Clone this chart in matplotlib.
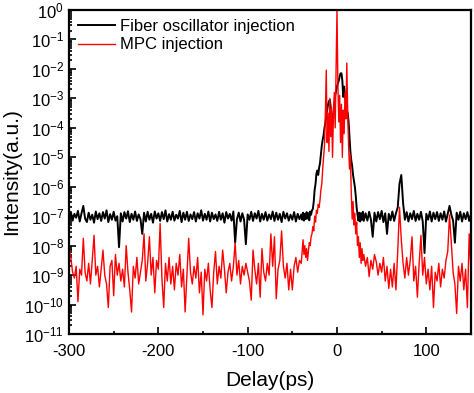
import numpy as np
import matplotlib
matplotlib.use("Agg")
import matplotlib.pyplot as plt
from matplotlib.ticker import LogLocator, MultipleLocator, NullFormatter

plt.rcParams["font.family"] = ["Liberation Sans", "DejaVu Sans"]
plt.rcParams["mathtext.fontset"] = "custom"
plt.rcParams["mathtext.rm"] = "Liberation Sans"
plt.rcParams["mathtext.it"] = "Liberation Sans:italic"
plt.rcParams["axes.unicode_minus"] = False

# Delay grid: coarse on the floor, 1 ps around the pulse
delay_left = np.arange(-300, -39, 2)
delay_center = np.arange(-39, 31, 1)
delay_right = np.arange(32, 151, 2)

# log10(intensity)
fiber_left = [
    -7.10, -6.85, -7.15, -6.92, -7.05, -6.82, -7.18, -6.90, -6.65, -7.08,
    -7.20, -6.88, -7.12, -6.95, -7.22, -6.84, -7.10, -6.90, -7.16, -6.86,
    -7.08, -6.80, -7.20, -6.93, -7.12, -6.85, -7.15, -7.00, -8.05, -6.90,
    -7.18, -6.86, -7.08, -6.83, -7.20, -6.92, -7.12, -6.84, -7.16, -6.94,
    -7.10, -7.60, -6.88, -7.18, -6.85, -7.12, -6.92, -7.22, -6.84, -7.08,
    -6.90, -7.16, -6.86, -7.10, -6.80, -7.18, -6.93, -7.12, -6.85, -7.15,
    -6.95, -7.08, -6.82, -7.20, -6.88, -7.12, -6.85, -7.16, -6.94, -7.10,
    -6.86, -7.18, -6.90, -7.08, -6.80, -7.15, -6.92, -7.12, -6.84, -7.18,
    -6.88, -7.10, -6.94, -7.16, -6.85, -7.12, -6.90, -7.22, -6.86, -7.08,
    -6.92, -7.15, -6.84, -7.90, -7.10, -6.88, -7.18, -6.90, -7.12, -7.95,
    -6.94, -7.12, -6.85, -7.16, -6.90, -7.08, -6.82, -7.18, -6.92, -7.12,
    -6.86, -7.15, -6.94, -7.10, -6.84, -7.16, -6.88, -7.12, -6.92, -7.20,
    -6.85, -7.08, -6.90, -7.15, -6.95, -7.12, -6.86, -7.18, -6.92, -7.10, -6.94,
]
fiber_center = [
    -7.12, -6.88, -7.15, -6.92, -7.10, -6.86, -7.08, -6.90, -7.14, -6.84,
    -6.95, -6.80, -6.75, -6.50, -6.10, -5.90, -5.55, -5.45, -5.60, -5.35,
    -5.20, -4.90, -4.60, -4.40, -4.25, -4.00, -3.85, -3.60, -3.40, -3.20,
    -3.10, -3.05, -3.30, -3.60, -3.85, -3.60, -3.20, -2.90, -2.75, -2.60,
    -2.50, -2.40, -2.25, -2.15, -2.15, -2.40, -2.95, -2.60, -2.90, -3.20,
    -3.40, -3.50, -3.80, -4.30, -4.80, -5.10, -5.30, -5.60, -5.80, -6.00,
    -6.30, -6.70, -6.95, -7.15, -6.88, -7.18, -6.90, -7.12, -6.85, -7.16,
]
fiber_right = [
    -6.90, -7.15, -6.85, -7.12, -7.70, -6.88, -7.18, -6.86, -7.10, -6.82,
    -7.20, -6.90, -7.60, -6.92, -7.14, -6.84, -7.16, -6.90, -6.70, -5.90,
    -5.60, -6.55, -7.12, -6.86, -7.18, -6.90, -7.10, -6.82, -7.16, -6.92,
    -7.12, -6.85, -7.18, -8.25, -6.92, -7.12, -6.84, -7.18, -6.88, -7.10,
    -6.86, -7.16, -6.90, -7.12, -6.84, -7.18, -6.92, -6.65, -6.95, -7.15,
    -7.90, -6.88, -7.12, -6.85, -7.18, -6.90, -7.10, -6.86, -7.16, -6.92,
]

mpc_left = [
    -8.05, -8.40, -8.90, -9.10, -8.70, -9.90, -8.80, -9.00, -7.75, -8.90,
    -9.20, -8.60, -9.30, -8.50, -7.65, -9.00, -8.70, -9.40, -8.80, -8.15,
    -9.00, -9.30, -10.10, -8.70, -8.50, -9.70, -8.30, -9.00, -8.60, -9.20,
    -8.80, -9.40, -8.00, -8.90, -9.50, -10.25, -8.70, -9.10, -8.40, -9.30,
    -8.90, -8.50, -7.60, -9.20, -8.60, -7.70, -9.00, -8.40, -9.60, -8.50,
    -8.80, -7.25, -9.10, -10.10, -8.60, -9.20, -8.40, -9.30, -8.70, -9.50,
    -8.60, -9.00, -8.30, -9.40, -8.80, -10.25, -9.00, -7.75, -8.90, -9.30,
    -8.70, -9.10, -8.40, -9.60, -8.90, -10.35, -8.80, -9.20, -8.60, -9.50,
    -10.10, -8.90, -8.20, -9.30, -8.70, -9.10, -8.15, -8.80, -9.60, -8.90,
    -8.60, -9.20, -8.70, -7.90, -9.00, -8.50, -9.30, -8.70, -9.00, -8.60,
    -8.90, -9.20, -9.85, -8.15, -8.80, -9.30, -8.60, -9.75, -8.10, -8.90,
    -9.20, -8.60, -9.00, -7.60, -8.70, -7.70, -9.80, -8.80, -8.50, -7.50,
    -8.70, -9.10, -8.60, -9.50, -8.80, -9.50, -8.70, -8.40, -8.90, -8.50, -8.60,
]
mpc_center = [
    -8.20, -7.80, -8.30, -8.00, -8.40, -8.10, -8.50, -8.20, -7.90, -8.00,
    -7.70, -7.60, -7.35, -7.50, -7.00, -7.20, -6.80, -6.90, -6.60, -6.70,
    -6.45, -6.10, -5.90, -5.40, -5.00, -4.60, -3.50, -2.04, -4.50, -3.50,
    -4.80, -3.00, -4.30, -3.30, -5.00, -3.60, -2.80, -4.00, -2.00, 0.00,
    -2.50, -3.80, -2.90, -4.50, -3.20, -5.00, -3.40, -4.20, -2.80, -3.70,
    -1.80, -3.50, -4.60, -5.40, -4.90, -6.20, -7.10, -6.50, -7.30, -6.90,
    -7.60, -7.20, -8.00, -7.70, -8.40, -7.90, -8.60, -8.10, -8.50, -8.30,
]
mpc_right = [
    -8.70, -8.40, -9.05, -8.50, -8.80, -8.30, -8.55, -9.00, -8.60, -8.90,
    -8.40, -9.20, -8.70, -9.45, -8.80, -9.40, -8.60, -9.50, -8.20, -6.70,
    -7.80, -8.60, -9.10, -8.40, -9.00, -8.50, -7.70, -9.20, -8.70, -9.75,
    -8.60, -7.65, -9.00, -8.40, -9.30, -8.80, -9.50, -8.70, -10.10, -8.90,
    -9.20, -8.60, -9.40, -8.80, -9.10, -8.50, -8.20, -6.96, -7.90, -8.90,
    -9.30, -10.30, -8.70, -9.20, -8.60, -9.50, -8.80, -10.10, -7.60, -8.90,
]

delay = np.concatenate([delay_left, delay_center, delay_right])
fiber = 10.0 ** np.concatenate([fiber_left, fiber_center, fiber_right])
mpc = 10.0 ** np.concatenate([mpc_left, mpc_center, mpc_right])

fig = plt.figure(figsize=(4.74, 3.93), dpi=100)
ax = fig.add_axes([0.1456, 0.150, 0.848, 0.8246])

ax.plot(delay, fiber, color="black", lw=1.4, label="Fiber oscillator injection")
ax.plot(delay, mpc, color="red", lw=1.0, label="MPC injection")

ax.set_yscale("log")
ax.set_xlim(-300, 150)
ax.set_ylim(1e-11, 1e0)
ax.yaxis.set_major_locator(LogLocator(base=10, numticks=20))
ax.yaxis.set_minor_locator(LogLocator(base=10, subs=np.arange(2, 10), numticks=200))
ax.yaxis.set_minor_formatter(NullFormatter())
ax.xaxis.set_major_locator(MultipleLocator(100))
ax.xaxis.set_minor_locator(MultipleLocator(50))

ax.tick_params(which="both", direction="in", labelsize=12, width=1.2)
ax.tick_params(which="major", length=5)
ax.tick_params(which="minor", length=2.5)
ax.tick_params(axis="x", pad=7)
for s in ax.spines.values():
    s.set_linewidth(1.6)

ax.set_xlabel("Delay(ps)", fontsize=15, labelpad=9)
ax.set_ylabel("Intensity(a.u.)", fontsize=15, labelpad=2)

ax.legend(loc="upper left", frameon=False, fontsize=12, handlelength=2.2,
          handletextpad=0.3, borderaxespad=0.15, labelspacing=0.2)

fig.savefig("out.png", dpi=100)
